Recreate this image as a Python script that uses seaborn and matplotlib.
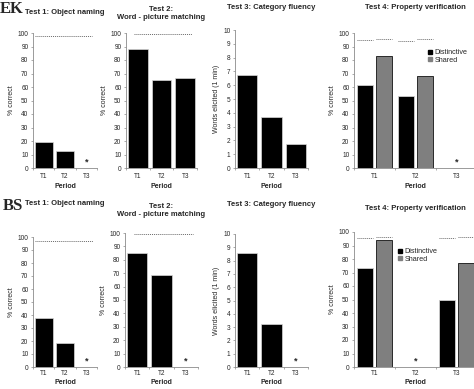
import numpy as np
import pandas as pd
import matplotlib
matplotlib.use("Agg")
import matplotlib.pyplot as plt
import seaborn as sns
from matplotlib.lines import Line2D

sns.set_style("white")
plt.rcParams["font.family"] = ["Liberation Sans", "DejaVu Sans"]

# ---------------- data ----------------
periods = ["T1", "T2", "T3"]
prop_types = ["Distinctive", "Shared"]

ek_naming = [19.2, 12.3, np.nan]
ek_matching = [88.5, 65.2, 66.8]
ek_fluency = [6.75, 3.73, 1.73]
ek_distinctive = [61.3, 53.7, np.nan]
ek_shared = [83.0, 68.2, np.nan]
ek_ctrl_naming = 97.5
ek_ctrl_matching = 99.3
ek_ctrl_distinctive = [94.8, 94.2, np.nan]
ek_ctrl_shared = [95.3, 95.3, np.nan]

bs_naming = [38.0, 18.8, np.nan]
bs_matching = [84.9, 69.0, np.nan]
bs_fluency = [8.55, 3.27, np.nan]
bs_distinctive = [73.0, np.nan, 49.3]
bs_shared = [94.2, np.nan, 77.0]
bs_ctrl_naming = 97.0
bs_ctrl_matching = 99.5
bs_ctrl_distinctive = [95.8, np.nan, 95.8]
bs_ctrl_shared = [96.3, np.nan, 96.3]

# ---------------- style ----------------
W, H = 474, 389
fig = plt.figure(figsize=(W / 100, H / 100), dpi=100)

TICK_FS = 4.7
LAB_FS = 5.0
TITLE_FS = 5.5
SPINE_C = "#8a8a8a"
DIST_C = "black"
SHARED_C = "#7f7f7f"
CTRL_C = "#6a6a6a"


def px_axes(x0, x1, ytop, ybot):
    return fig.add_axes([x0 / W, 1 - ybot / H, (x1 - x0) / W, (ybot - ytop) / H])


def style_axes(ax, ymax, ystep, ylabel, xpad, xlabpad):
    ax.set_ylim(0, ymax)
    ax.set_yticks(np.arange(0, ymax + 0.01, ystep))
    ax.set_yticklabels([f"{v:g}" for v in np.arange(0, ymax + 0.01, ystep)])
    for s in ["top", "right"]:
        ax.spines[s].set_visible(False)
    for s in ["left", "bottom"]:
        ax.spines[s].set_color(SPINE_C)
        ax.spines[s].set_linewidth(0.6)
    ax.tick_params(axis="y", labelsize=TICK_FS, length=1.8, width=0.5,
                   color=SPINE_C, pad=1.5, left=True)
    ax.tick_params(axis="x", labelsize=TICK_FS, length=0, pad=xpad)
    ax.set_xticks([-0.5, 0.5, 1.5, 2.5], minor=True)
    ax.tick_params(axis="x", which="minor", length=1.6, width=0.5,
                   color=SPINE_C, bottom=True)
    ax.set_ylabel(ylabel, fontsize=LAB_FS, labelpad=2)
    ax.set_xlabel("Period", fontsize=LAB_FS, fontweight="bold", labelpad=xlabpad)
    ax.set_xlim(-0.5, 2.5)


def simple_panel(ax, values, ymax, ystep, ylabel, ctrl=None, ctrl_span=(-0.3, 2.3),
                 xpad=3.5, xlabpad=2.2):
    df = pd.DataFrame({"period": periods, "value": values})
    sns.barplot(data=df, x="period", y="value", order=periods, color=DIST_C,
                width=0.84, edgecolor="#d8d8d8", linewidth=0.5, ax=ax,
                errorbar=None)
    style_axes(ax, ymax, ystep, ylabel, xpad, xlabpad)
    if ctrl is not None:
        ax.hlines(ctrl, ctrl_span[0], ctrl_span[1], colors=CTRL_C,
                  linestyles=(0, (1, 1)), linewidth=0.7)
    for i, v in enumerate(values):
        if np.isnan(v):
            ax.text(i, ymax * 0.01, "*", ha="center", va="bottom",
                    fontsize=6.5, fontweight="bold")


def property_panel(ax, dist, shared, ctrl_d, ctrl_s, legend_anchor,
                   xpad=3.5, xlabpad=2.2):
    df = pd.DataFrame({
        "period": periods * 2,
        "type": [prop_types[0]] * 3 + [prop_types[1]] * 3,
        "value": list(dist) + list(shared),
    })
    sns.barplot(data=df, x="period", y="value", hue="type", order=periods,
                hue_order=prop_types,
                palette={prop_types[0]: DIST_C, prop_types[1]: SHARED_C},
                width=0.9, gap=0.12, linewidth=0.6, ax=ax, errorbar=None,
                legend=False)
    for c, ec in zip(ax.containers, ["#d0d0d0", "#111111"]):
        for p in c:
            p.set_edgecolor(ec)
    style_axes(ax, 100, 10, "% correct", xpad, xlabpad)
    half = 0.45 / 2
    bw = 0.45 * (1 - 0.12)
    for i in range(3):
        for off, cv in ((-half, ctrl_d[i]), (half, ctrl_s[i])):
            if not np.isnan(cv):
                ax.hlines(cv, i + off - bw / 2, i + off + bw / 2, colors=CTRL_C,
                          linestyles=(0, (1, 1)), linewidth=0.7)
        if np.isnan(dist[i]) and np.isnan(shared[i]):
            ax.text(i, 1.0, "*", ha="center", va="bottom", fontsize=6.5,
                    fontweight="bold")
    handles = [Line2D([], [], marker="s", linestyle="none", markersize=3.2,
                      markerfacecolor=DIST_C, markeredgecolor=DIST_C),
               Line2D([], [], marker="s", linestyle="none", markersize=3.2,
                      markerfacecolor=SHARED_C, markeredgecolor=SHARED_C)]
    ax.legend(handles, prop_types, loc="upper left", bbox_to_anchor=legend_anchor,
              frameon=False, fontsize=5.2, handlelength=0.6, handletextpad=0.3,
              labelspacing=0.05, borderpad=0, borderaxespad=0)


# ---------------- EK row ----------------
ax = px_axes(33, 97, 33, 168)
simple_panel(ax, ek_naming, 100, 10, "% correct", ek_ctrl_naming, (-0.4, 2.25))
ax.set_title("Test 1: Object naming", fontsize=TITLE_FS, fontweight="bold", pad=14)

ax = px_axes(126, 197, 33, 168)
simple_panel(ax, ek_matching, 100, 10, "% correct", ek_ctrl_matching, (-0.15, 2.3))
ax.set_title("Test 2:\nWord - picture matching", fontsize=TITLE_FS,
             fontweight="bold", pad=10, linespacing=1.3)

ax = px_axes(235, 308, 30, 168)
simple_panel(ax, ek_fluency, 10, 1, "Words elicited (1 min)")
ax.set_title("Test 3: Category fluency", fontsize=TITLE_FS, fontweight="bold", pad=15)

ax = px_axes(354, 477, 33, 168)
property_panel(ax, ek_distinctive, ek_shared, ek_ctrl_distinctive,
               ek_ctrl_shared, (0.6, 0.88))
ax.set_title("Test 4: Property verification", fontsize=TITLE_FS,
             fontweight="bold", pad=17)

# ---------------- BS row ----------------
BP, BLP = 2.5, 0.8
ax = px_axes(33, 97, 237, 367)
simple_panel(ax, bs_naming, 100, 10, "% correct", bs_ctrl_naming, (-0.4, 2.3),
             xpad=BP, xlabpad=BLP)
ax.set_title("Test 1: Object naming", fontsize=TITLE_FS, fontweight="bold", pad=23)

ax = px_axes(125, 198, 233, 367)
simple_panel(ax, bs_matching, 100, 10, "% correct", bs_ctrl_matching, (-0.15, 2.3),
             xpad=BP, xlabpad=BLP)
ax.set_title("Test 2:\nWord - picture matching", fontsize=TITLE_FS,
             fontweight="bold", pad=12, linespacing=1.3)

ax = px_axes(235, 308, 234, 367)
simple_panel(ax, bs_fluency, 10, 1, "Words elicited (1 min)", xpad=BP, xlabpad=BLP)
ax.set_title("Test 3: Category fluency", fontsize=TITLE_FS, fontweight="bold", pad=20)

ax = px_axes(354, 477, 232, 367)
property_panel(ax, bs_distinctive, bs_shared, bs_ctrl_distinctive,
               bs_ctrl_shared, (0.36, 0.88), xpad=BP, xlabpad=BLP)
ax.set_title("Test 4: Property verification", fontsize=TITLE_FS,
             fontweight="bold", pad=16)

# row labels
fig.text(0 / W, 1 - 1 / H, "EK", fontsize=12, fontweight="bold",
         family="Liberation Serif", va="top", ha="left")
fig.text(3 / W, 1 - 198 / H, "BS", fontsize=12, fontweight="bold",
         family="Liberation Serif", va="top", ha="left")

fig.savefig("out.png", dpi=100, facecolor="white")
